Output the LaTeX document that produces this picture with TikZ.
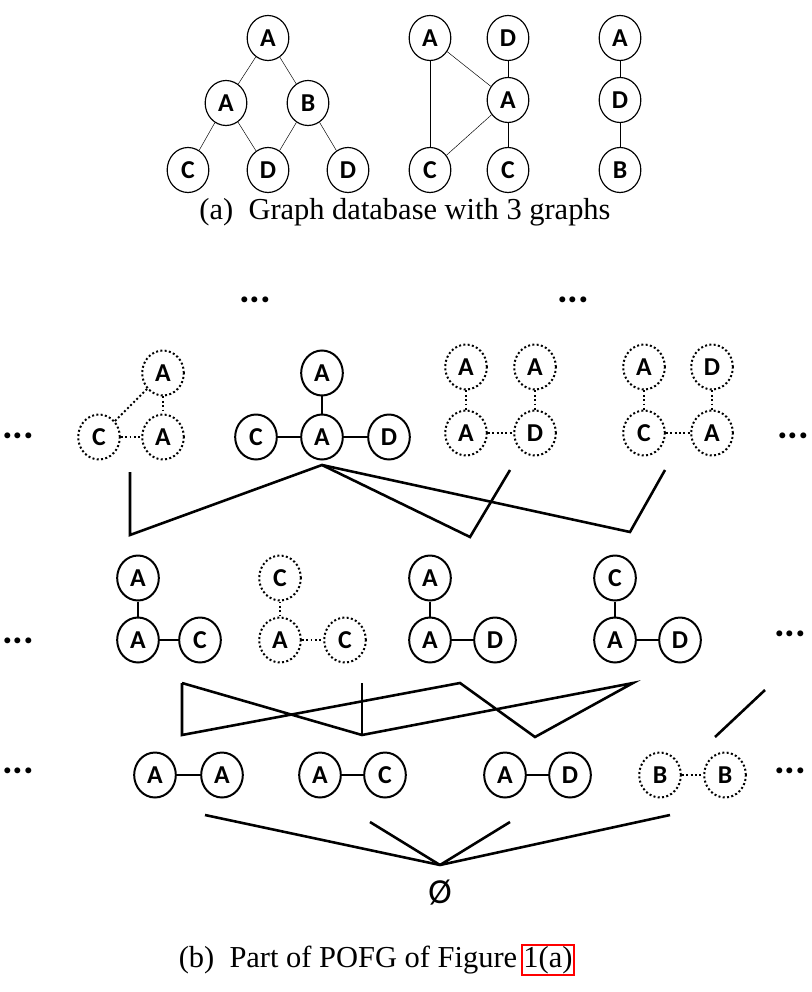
\documentclass[tikz,border=0pt]{standalone}
\usepackage{fontspec}
\setmainfont{Liberation Serif}
\newfontfamily\lblfont{Carlito}
\usetikzlibrary{shapes.geometric}
\begin{document}
\begin{tikzpicture}[x=0.03cm,y=-0.03cm]
\tikzstyle{vtx} = [ellipse, draw, line width=1pt, minimum width=1.25cm, minimum height=1.35cm, inner sep=0pt, font=\lblfont\bfseries\fontsize{22}{22}\selectfont]
\tikzstyle{sv} = [vtx, line width=1.7pt]
\tikzstyle{dv} = [vtx, line width=1.7pt, dotted]
\tikzstyle{se} = [line width=1.7pt]
\tikzstyle{de} = [line width=1.7pt, dotted]
\tikzstyle{lat} = [line width=2.2pt, line join=miter]
\tikzstyle{dots} = [font=\lblfont\bfseries\fontsize{34}{34}\selectfont]
\tikzstyle{captxt} = [font=\fontsize{26}{30}\selectfont]
\useasboundingbox (0,0) rectangle (811,992);

% (a) graph database
\node[vtx] (a1) at (268,38) {A};
\node[vtx] (a2) at (226,103) {A};
\node[vtx] (a3) at (308,103) {B};
\node[vtx] (a4) at (188,170) {C};
\node[vtx] (a5) at (268,170) {D};
\node[vtx] (a6) at (348,170) {D};
\draw (a1) -- (a2); \draw (a1) -- (a3);
\draw (a2) -- (a4); \draw (a2) -- (a5);
\draw (a3) -- (a5); \draw (a3) -- (a6);

\node[vtx] (b1) at (430,38) {A};
\node[vtx] (b2) at (508,38) {D};
\node[vtx] (b3) at (508,100) {A};
\node[vtx] (b4) at (430,170) {C};
\node[vtx] (b5) at (508,170) {C};
\draw (b1) -- (b4); \draw (b1) -- (b3);
\draw (b2) -- (b3); \draw (b3) -- (b4); \draw (b3) -- (b5);

\node[vtx] (c1) at (620,38) {A};
\node[vtx] (c2) at (620,100) {D};
\node[vtx] (c3) at (620,170) {B};
\draw (c1) -- (c2); \draw (c2) -- (c3);

\node[captxt] (capa) at (405,212) {(a)\hspace{0.5em}Graph database with 3 graphs};

% (b) POFG, top row
\node[dots] (dt1) at (255,300) {...};
\node[dots] (dt2) at (573,300) {...};
\node[dots] (dl1) at (18,436) {...};
\node[dots] (dr1) at (793,436) {...};

\node[dv] (p1) at (163,373) {A};
\node[dv] (p2) at (99,437) {C};
\node[dv] (p3) at (163,437) {A};
\draw[de] (p2) -- (p1); \draw[de] (p1) -- (p3); \draw[de] (p2) -- (p3);

\node[sv] (q1) at (322,373) {A};
\node[sv] (q2) at (256,437) {C};
\node[sv] (q3) at (322,437) {A};
\node[sv] (q4) at (389,437) {D};
\draw[se] (q1) -- (q3); \draw[se] (q2) -- (q3); \draw[se] (q3) -- (q4);

\node[dv] (r1) at (466,367) {A};
\node[dv] (r2) at (535,367) {A};
\node[dv] (r3) at (466,433) {A};
\node[dv] (r4) at (535,433) {D};
\draw[de] (r1) -- (r3); \draw[de] (r2) -- (r4); \draw[de] (r3) -- (r4);

\node[dv] (s1) at (644,367) {A};
\node[dv] (s2) at (712,367) {D};
\node[dv] (s3) at (644,433) {C};
\node[dv] (s4) at (712,433) {A};
\draw[de] (s1) -- (s3); \draw[de] (s2) -- (s4); \draw[de] (s3) -- (s4);

% lines between top and middle row
\coordinate (u0) at (130,472);
\coordinate (u1) at (130,535);
\coordinate (u2) at (322,465);
\coordinate (u3) at (470,537);
\coordinate (u4) at (510,470);
\coordinate (u5) at (630,532);
\coordinate (u6) at (665,470);
\draw[lat] (u0) -- (u1) -- (u2) -- (u5) -- (u6);
\draw[lat] (u2) -- (u3) -- (u4);

% middle row
\node[dots] (dl2) at (18,641) {...};
\node[dots] (dr2) at (790,634) {...};

\node[sv] (m1) at (138,578) {A};
\node[sv] (m2) at (138,640) {A};
\node[sv] (m3) at (200,640) {C};
\draw[se] (m1) -- (m2); \draw[se] (m2) -- (m3);

\node[dv] (n1) at (280,578) {C};
\node[dv] (n2) at (280,640) {A};
\node[dv] (n3) at (345,640) {C};
\draw[de] (n1) -- (n2); \draw[de] (n2) -- (n3);

\node[sv] (o1) at (430,578) {A};
\node[sv] (o2) at (430,640) {A};
\node[sv] (o3) at (495,640) {D};
\draw[se] (o1) -- (o2); \draw[se] (o2) -- (o3);

\node[sv] (t1) at (615,578) {C};
\node[sv] (t2) at (615,640) {A};
\node[sv] (t3) at (680,640) {D};
\draw[se] (t1) -- (t2); \draw[se] (t2) -- (t3);

% lines between middle and bottom row
\coordinate (v0) at (182,683);
\coordinate (v1) at (182,735);
\coordinate (v2) at (460,683);
\coordinate (v3) at (362,735);
\coordinate (v4) at (633,683);
\coordinate (v5) at (535,737);
\coordinate (v6) at (362,683);
\coordinate (v7) at (765,690);
\coordinate (v8) at (715,737);
\draw[lat] (v0) -- (v1) -- (v2) -- (v5) -- (v4) -- (v3) -- (v0);
\draw[lat] (v6) -- (v3);
\draw[lat] (v7) -- (v8);

% bottom row
\node[dots] (dl3) at (18,771) {...};
\node[dots] (dr3) at (790,771) {...};

\node[sv] (w1) at (155,775) {A};
\node[sv] (w2) at (222,775) {A};
\draw[se] (w1) -- (w2);
\node[sv] (x1) at (320,775) {A};
\node[sv] (x2) at (385,775) {C};
\draw[se] (x1) -- (x2);
\node[sv] (y1) at (505,775) {A};
\node[sv] (y2) at (570,775) {D};
\draw[se] (y1) -- (y2);
\node[dv] (z1) at (660,775) {B};
\node[dv] (z2) at (725,775) {B};
\draw[de] (z1) -- (z2);

% empty pattern
\coordinate (e0) at (440,865);
\coordinate (e1) at (205,815);
\coordinate (e2) at (370,822);
\coordinate (e3) at (510,822);
\coordinate (e4) at (670,815);
\foreach \k in {1,...,4} \draw[lat] (e0) -- (e\k);
\node[font=\lblfont\fontsize{30}{30}\selectfont] (empty) at (440,893) {\O};

\node[captxt] (capb) at (348,960) {(b)\hspace{0.5em}Part of POFG of Figure};
\node[captxt, draw=red, line width=1.5pt, inner sep=1pt, anchor=west] (figref) at (capb.east) {1(a)};
\end{tikzpicture}
\end{document}
